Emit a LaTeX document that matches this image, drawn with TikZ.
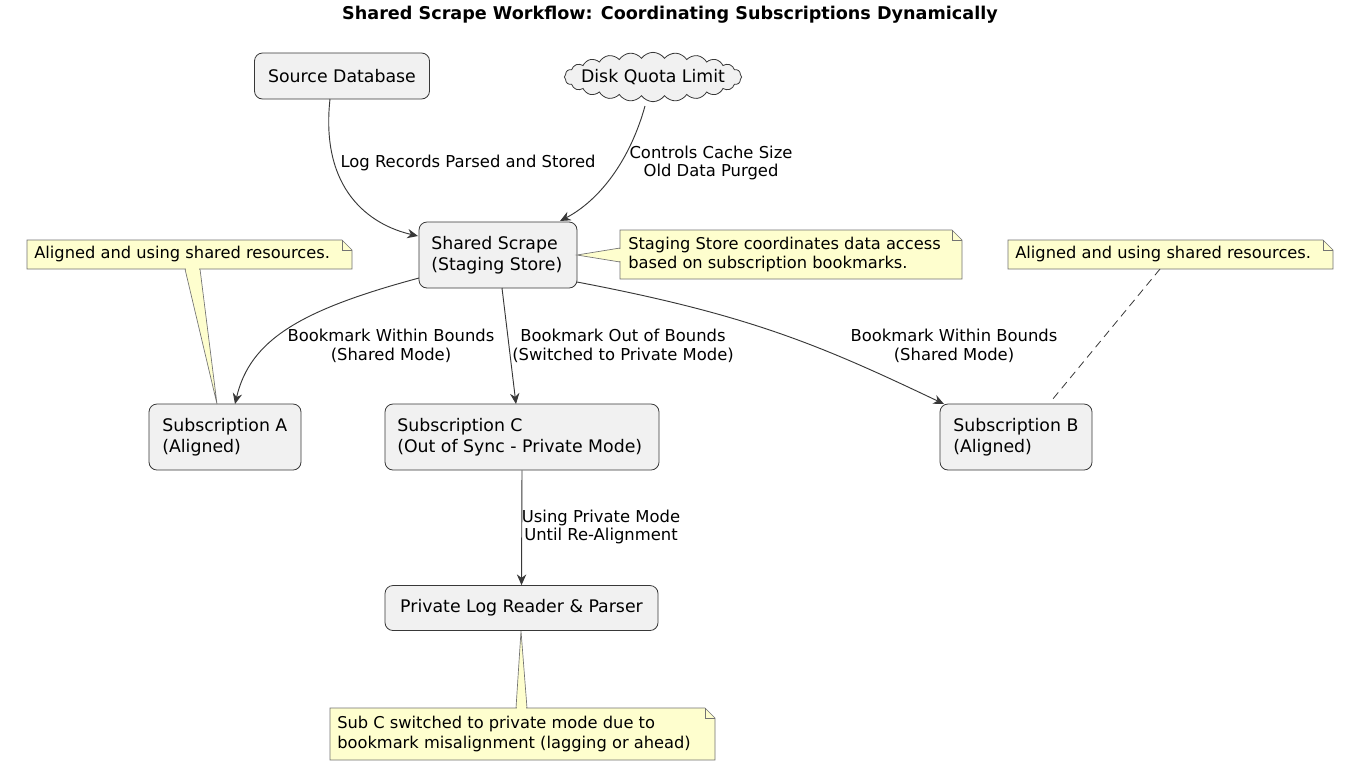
\documentclass[tikz,border=0pt]{standalone}
\usepackage{fontspec}
\setmainfont{DejaVu Sans}
\usetikzlibrary{shapes.symbols,arrows.meta}
\definecolor{boxfill}{HTML}{F1F1F1}
\definecolor{notefill}{HTML}{FEFECE}
\definecolor{edgec}{HTML}{383838}
\tikzset{
  px/.style={x=0.75pt,y=-0.75pt},
  box/.style={draw=edgec,fill=boxfill,rounded corners=6pt,align=left,font=\fontsize{13}{15.5}\selectfont,inner sep=0pt,line width=0.6pt},
  btext/.style={align=left,font=\fontsize{13}{15.5}\selectfont,inner sep=0pt},
  cloudbox/.style={cloud,cloud puffs=24,cloud puff arc=110,aspect=3.6,draw=edgec,fill=boxfill,inner sep=0pt,line width=0.6pt},
  notetext/.style={align=left,font=\fontsize{12.2}{14.5}\selectfont,inner sep=0pt},
  notepath/.style={draw=black!55,fill=notefill,line width=0.5pt},
  arr/.style={-{Stealth[length=8pt,width=7pt]},draw=edgec,line width=0.7pt},
  lbl/.style={font=\fontsize{12.3}{14}\selectfont,align=center,inner sep=1pt},
}
\newcommand{\mynote}[5]{% name, x1,y1,x2,y2
  \path[notepath] (#2,#3) -- (#4-10,#3) -- (#4,#3+10) -- (#4,#5) -- (#2,#5) -- cycle;
  \draw[black!55,line width=0.5pt] (#4-10,#3) -- (#4-10,#3+10) -- (#4,#3+10);
  \coordinate (#1) at ({(#2+#4)/2},{(#3+#5)/2});
}
\begin{document}
\begin{tikzpicture}[px]
\useasboundingbox[fill=white] (0,0) rectangle (1358,772);
\node[font=\bfseries\fontsize{13.2}{15}\selectfont] (title) at (670,15) {Shared Scrape Workflow: Coordinating Subscriptions Dynamically};

% boxes
\node[box,minimum width=131.25pt,minimum height=34.5pt] (src) at (342,76) {};
\node[btext] at (src) {Source Database};
\node[cloudbox,minimum width=133pt,minimum height=37pt] (disk) at (653,77) {};
\node[btext] at (disk) {Disk Quota Limit};
\node[box,minimum width=118.5pt,minimum height=49.5pt] (ss) at (498,255) {};
\node[btext,anchor=west] at (431,255) {Shared Scrape\\(Staging Store)};
\node[box,minimum width=114pt,minimum height=49.5pt] (sa) at (225,437) {};
\node[btext,anchor=west] at (162,437) {Subscription A\\(Aligned)};
\node[box,minimum width=205.5pt,minimum height=49.5pt] (sc) at (522,437) {};
\node[btext,anchor=west] at (397,437) {Subscription C\\(Out of Sync - Private Mode)};
\node[box,minimum width=114pt,minimum height=49.5pt] (sb) at (1016,437) {};
\node[btext,anchor=west] at (953,437) {Subscription B\\(Aligned)};
\node[box,minimum width=204.75pt,minimum height=33.75pt] (pl) at (521.5,608) {};
\node[btext] at (pl) {Private Log Reader \& Parser};

% edges
\draw[arr] (330,99) coordinate (s1) .. controls (320,190) and (370,225) .. (418,236) coordinate (e1);
\node[lbl] at (468,163) {Log Records Parsed and Stored};
\draw[arr] (645,106) coordinate (d1) .. controls (630,160) and (600,200) .. (560,221) coordinate (e2);
\node[lbl] at (711,163) {Controls Cache Size\\Old Data Purged};
\draw[arr] (419,278) coordinate (s3) .. controls (300,310) and (250,340) .. (235,404) coordinate (e3);
\node[lbl] at (391,346) {Bookmark Within Bounds\\(Shared Mode)};
\draw[arr] (502,288) coordinate (s4) -- (516,404) coordinate (e4);
\node[lbl] at (623,346) {Bookmark Out of Bounds\\(Switched to Private Mode)};
\draw[arr] (577,282) coordinate (s5) .. controls (750,315) and (820,345) .. (944,404) coordinate (e5);
\node[lbl] at (954,346) {Bookmark Within Bounds\\(Shared Mode)};
\draw[arr] (sc.south) -- (pl.north);
\node[lbl] at (601,527) {Using Private Mode\\Until Re-Alignment};

% notes
\path[notepath] (185,269) -- (217,404) -- (200,269) -- cycle;
\mynote{nl}{27}{240}{352}{269}
\draw[notefill,line width=1pt] (186,269) -- (199,269);
\node[notetext,anchor=west] at (34,254.5) {Aligned and using shared resources.};

\path[notepath] (620,248) -- (577,255) -- (620,262) -- cycle;
\mynote{nm}{620}{230}{962}{279}
\draw[notefill,line width=1pt] (620,249) -- (620,261);
\node[notetext,anchor=west] at (628,254.5) {Staging Store coordinates data access\\based on subscription bookmarks.};

\mynote{nr}{1008}{240}{1333}{269}
\node[notetext,anchor=west] at (1015,254.5) {Aligned and using shared resources.};
\draw[dashed,edgec,line width=0.6pt,dash pattern=on 6pt off 4pt] (1160,269) -- (1052,400);

\path[notepath] (521,631) -- (527,708) -- (516,708) -- cycle;
\mynote{nb}{330}{708}{715}{760}
\draw[notefill,line width=1pt] (517,708) -- (526,708);
\node[notetext,anchor=west] at (337,734) {Sub C switched to private mode due to\\bookmark misalignment (lagging or ahead)};
\end{tikzpicture}
\end{document}
